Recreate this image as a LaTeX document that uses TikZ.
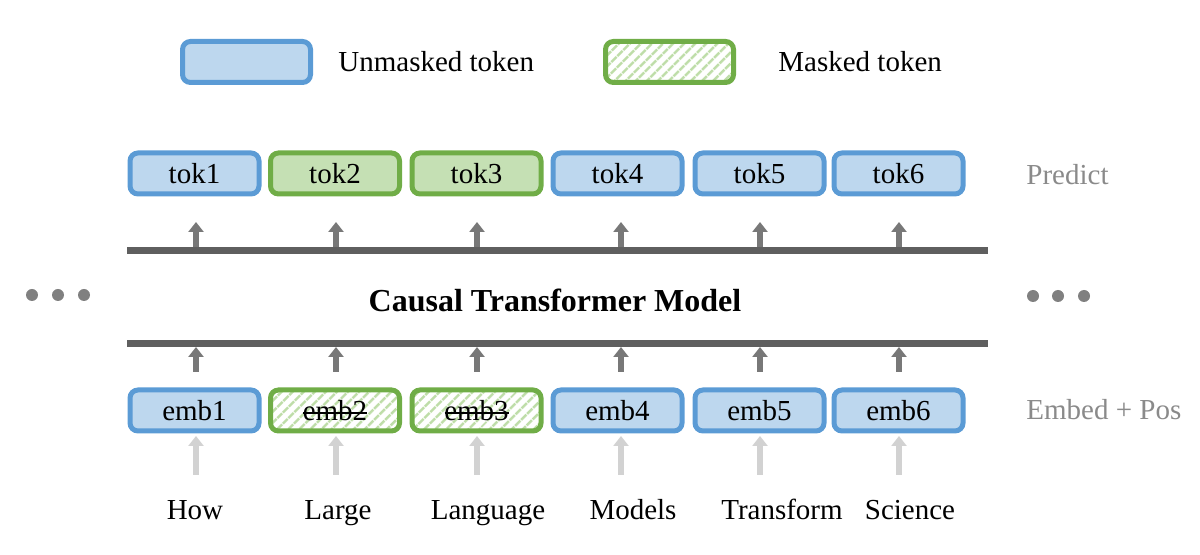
\documentclass[tikz,border=0pt]{standalone}
\usepackage{fontspec}
\setmainfont{Liberation Serif}
\usetikzlibrary{arrows.meta,patterns.meta,calc}
\definecolor{ublue}{HTML}{BDD7EE}
\definecolor{bblue}{HTML}{5B9BD5}
\definecolor{bgreen}{HTML}{70AD47}
\definecolor{fgreen}{HTML}{C5E0B4}
\definecolor{hgreen}{HTML}{BEDDA8}
\definecolor{darkbar}{HTML}{5F5F5F}
\definecolor{darkarr}{HTML}{787878}
\definecolor{lightarr}{HTML}{D2D2D2}
\definecolor{labelgray}{HTML}{8A8A8A}
\definecolor{dotgray}{HTML}{808080}
\begin{document}
\begin{tikzpicture}[x=0.5pt,y=-0.5pt,
  txt/.style={font=\fontsize{14.5}{17}\selectfont},
  box/.style={txt, rounded corners=4pt, line width=2.5pt, minimum width=64.5pt, minimum height=20.5pt, inner sep=0pt},
  unmasked/.style={box, draw=bblue, fill=ublue},
  predmasked/.style={box, draw=bgreen, fill=fgreen},
  masked/.style={box, draw=bgreen, pattern={Lines[angle=45,distance=4pt,line width=1.4pt]}, pattern color=hgreen},
  darkup/.style={line width=3pt, draw=darkarr, -{Triangle[width=7.5pt,length=5pt]}},
  lightup/.style={line width=3pt, draw=lightarr, -{Triangle[width=7.5pt,length=5pt]}},
  bar/.style={line width=3.5pt, draw=darkbar, line cap=butt},
  strike/.style={line width=0.6pt, draw=black},
  side/.style={txt, text=labelgray, anchor=base west, inner sep=0pt},
  word/.style={txt, anchor=base, inner sep=0pt},
  dot/.style={fill=dotgray}
]
\useasboundingbox (0,0) rectangle (1200,555);

% legend
\node[unmasked, minimum width=64pt] (legU) at (246.5,62) {};
\node[txt, anchor=west, inner sep=0pt] (legUt) at (338,62) {Unmasked token};
\node[masked, minimum width=64pt] (legM) at (669.5,62) {};
\node[txt, anchor=west, inner sep=0pt] (legMt) at (778,62) {Masked token};

% predicted tokens
\node[unmasked]   (tok1) at (194.5,173.5) {tok1};
\node[predmasked] (tok2) at (335,173.5)   {tok2};
\node[predmasked] (tok3) at (476.5,173.5) {tok3};
\node[unmasked]   (tok4) at (617.5,173.5) {tok4};
\node[unmasked]   (tok5) at (759.5,173.5) {tok5};
\node[unmasked]   (tok6) at (898.5,173.5) {tok6};

% embeddings
\node[unmasked] (emb1) at (194.5,410.5) {emb1};
\node[masked]   (emb2) at (335,410.5)   {emb2};
\node[masked]   (emb3) at (476.5,410.5) {emb3};
\node[unmasked] (emb4) at (617.5,410.5) {emb4};
\node[unmasked] (emb5) at (759.5,410.5) {emb5};
\node[unmasked] (emb6) at (898.5,410.5) {emb6};
\draw[strike] ($(emb2.center)+(-32,2.5)$) -- ($(emb2.center)+(32,2.5)$);
\draw[strike] ($(emb3.center)+(-32,2.5)$) -- ($(emb3.center)+(32,2.5)$);

% words
\node[word] (w1) at (195,520) {How};
\node[word] (w2) at (338,520) {Large};
\node[word] (w3) at (488,520) {Language};
\node[word] (w4) at (633,520) {Models};
\node[word] (w5) at (782,520) {Transform};
\node[word] (w6) at (910,520) {Science};

% side labels
\node[side] (pred) at (1026,184.5) {Predict};
\node[side] (embp) at (1026,419.5) {Embed + Pos};

% arrows
\foreach \i/\x in {1/196,2/336,3/477,4/621,5/760,6/899}{
  \coordinate (ta\i) at (\x,248);
  \coordinate (tb\i) at (\x,222);
  \coordinate (ma\i) at (\x,372);
  \coordinate (mb\i) at (\x,347);
  \coordinate (la\i) at (\x,475);
  \coordinate (lb\i) at (\x,436);
  \draw[darkup] (ta\i) -- (tb\i);
  \draw[darkup] (ma\i) -- (mb\i);
  \draw[lightup] (la\i) -- (lb\i);
}

% transformer bars
\coordinate (bar1l) at (127,250.5);
\coordinate (bar1r) at (988,250.5);
\coordinate (bar2l) at (127,343.5);
\coordinate (bar2r) at (988,343.5);
\draw[bar] (bar1l) -- (bar1r);
\draw[bar] (bar2l) -- (bar2r);

\node[font=\bfseries\fontsize{16}{19}\selectfont, anchor=base, inner sep=0pt] (model) at (555,311.5) {Causal Transformer Model};

% ellipsis dots
\foreach \x in {32,58,84}{\fill[dot] (\x,295) circle[radius=3pt];}
\foreach \x in {1033,1058,1084}{\fill[dot] (\x,296) circle[radius=3pt];}
\end{tikzpicture}
\end{document}
